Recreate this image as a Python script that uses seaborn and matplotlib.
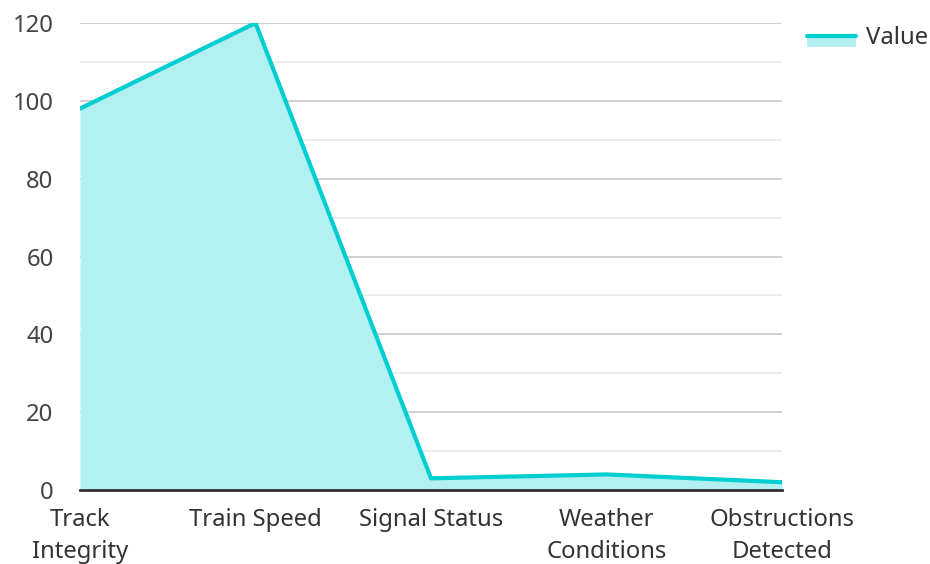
import matplotlib
matplotlib.use("Agg")
import matplotlib.pyplot as plt
import seaborn as sns
import numpy as np
import pandas as pd
from matplotlib.legend_handler import HandlerBase
from matplotlib.patches import Rectangle
from matplotlib.lines import Line2D

categories = ["Track Integrity", "Train Speed", "Signal Status", "Weather Conditions", "Obstructions Detected"]
tick_labels = ["Track\nIntegrity", "Train Speed", "Signal Status", "Weather\nConditions", "Obstructions\nDetected"]
values = [98, 120, 3, 4, 2]
series_name = "Value"

LINE = "#00CED1"
FILL = "#B2F0F1"
FS = 17.2

sns.set_theme(style="white")
plt.rcParams["font.family"] = ["Noto Sans", "DejaVu Sans"]

df = pd.DataFrame({"pos": np.arange(len(categories)), "value": values, "category": categories})

fig = plt.figure(figsize=(9.3, 5.64), dpi=100)
ax = fig.add_axes([80/930, 1-490/564, (782-80)/930, (490-23)/564])

ax.fill_between(df["pos"], 0, df["value"], color=FILL, linewidth=0, zorder=2)
sns.lineplot(data=df, x="pos", y="value", ax=ax, color=LINE, linewidth=3, zorder=3, legend=False)

ax.set_xlim(0, len(categories)-1)
ax.set_ylim(0, 120)
ax.set_yticks(range(0, 121, 20))
ax.set_yticks(range(10, 120, 20), minor=True)
ax.grid(axis="y", which="major", color="#c8c8c8", linewidth=1.2, zorder=1)
ax.grid(axis="y", which="minor", color="#e8e8e8", linewidth=1.2, zorder=1)
ax.set_axisbelow(True)
ax.set_xticks(df["pos"])
ax.set_xticklabels(tick_labels, linespacing=1.45)
for s in ["top", "right", "left"]:
    ax.spines[s].set_visible(False)
ax.spines["bottom"].set_color("#333333")
ax.spines["bottom"].set_linewidth(2)
ax.spines["bottom"].set_zorder(4)
ax.tick_params(axis="y", which="both", length=0, pad=19, labelsize=FS, labelcolor="#444444")
ax.tick_params(axis="x", length=0, pad=13, labelsize=FS, labelcolor="#333333")
ax.set_xlabel("")
ax.set_ylabel("")


class AreaHandler(HandlerBase):
    def create_artists(self, legend, orig_handle, xdescent, ydescent, width, height, fontsize, trans):
        mid = -ydescent + height*0.5
        r = Rectangle((-xdescent, mid - 8), width, 8, facecolor=FILL, edgecolor="none", transform=trans)
        l = Line2D([-xdescent, -xdescent+width], [mid, mid], color=LINE, linewidth=3, transform=trans)
        return [r, l]


proxy = Rectangle((0, 0), 1, 1)
fig.legend([proxy], [series_name], handler_map={Rectangle: AreaHandler()},
           loc="upper left", bbox_to_anchor=(807/930, 1-26/564), frameon=False,
           borderpad=0, borderaxespad=0,
           fontsize=FS, handlelength=2.05, handleheight=0.7, handletextpad=0.42,
           labelcolor="#333333")

fig.savefig("out.png", dpi=100)
